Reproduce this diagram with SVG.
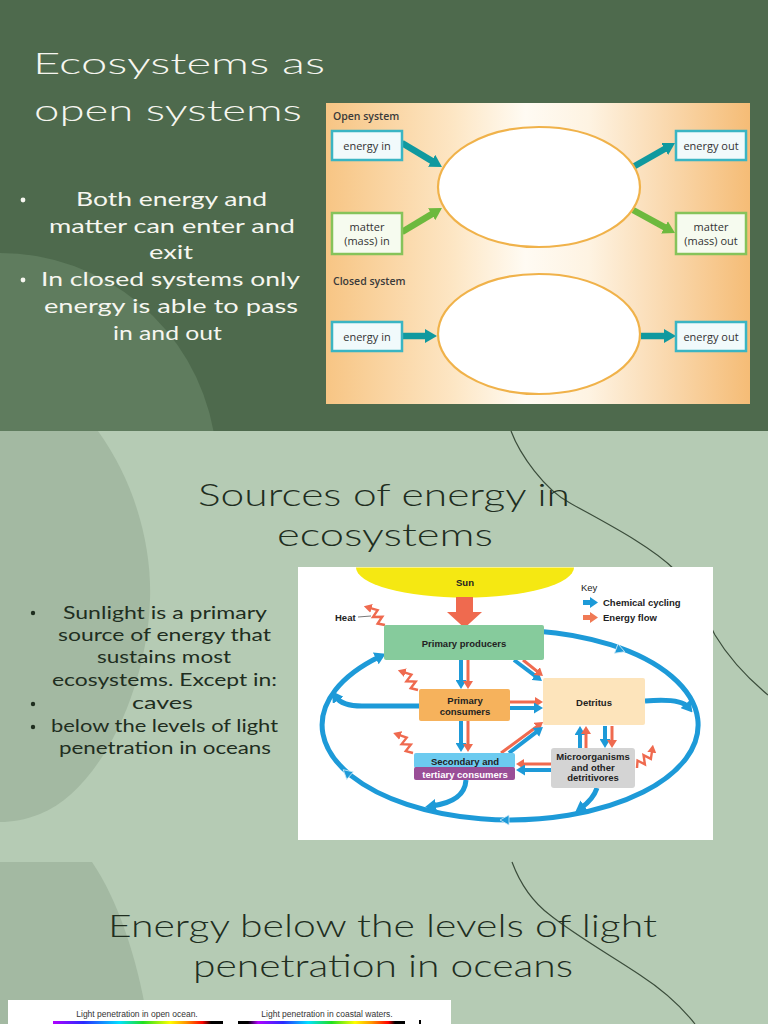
<svg xmlns="http://www.w3.org/2000/svg" width="768" height="1024" viewBox="0 0 768 1024">
<defs>
<style>
.ttl{font-family:Lato,'Open Sans','Liberation Sans',sans-serif;font-weight:300}
.bul{font-family:Lato,'Open Sans','Liberation Sans',sans-serif}
.d1{font-family:'Open Sans','Liberation Sans',sans-serif;font-size:11px;fill:#333}
.d1b{font-family:'Open Sans','Liberation Sans',sans-serif;font-size:10.5px;font-weight:600;fill:#3a3a3a}
.d2{font-family:'Liberation Sans',Arial,sans-serif;font-size:9.5px;font-weight:bold;fill:#222;text-anchor:middle}
.d2l{font-family:'Liberation Sans',Arial,sans-serif;font-size:9.5px;font-weight:bold;fill:#222}
.bx1{stroke:#3ab5c3;stroke-width:2.5;fill:#f1fafb}
.bx1g{stroke:#86c35a;stroke-width:2.5;fill:#f6fbef}
.ell{stroke:#f0b24a;stroke-width:2.2;fill:#fff}
.ar-t{stroke:#10999f;stroke-width:6.5;fill:none;marker-end:url(#mTeal)}
.ar-g{stroke:#6db93e;stroke-width:6.5;fill:none;marker-end:url(#mGreen)}
.ab{stroke:#1d9ad8;stroke-width:4;fill:none;marker-end:url(#mB)}
.ar{stroke:#ef6a4f;stroke-width:3;fill:none;marker-end:url(#mR)}
.abb{stroke:#1d9ad8;stroke-width:5;fill:none;marker-end:url(#mBB)}
.zz{stroke:#ef6a4f;stroke-width:2.4;fill:none;stroke-linejoin:miter;marker-end:url(#mRs)}
.chev{fill:#1d9ad8;stroke:#cfeaf7;stroke-width:0.8}
.deco{fill:none;stroke:#3b4d3b;stroke-width:1.2}
</style>
<marker id="mTeal" viewBox="0 0 12 14" refX="4" refY="7" markerUnits="userSpaceOnUse" markerWidth="12" markerHeight="14" orient="auto"><path d="M0,0 L12,7 L0,14 z" fill="#10999f"/></marker>
<marker id="mGreen" viewBox="0 0 12 14" refX="4" refY="7" markerUnits="userSpaceOnUse" markerWidth="12" markerHeight="14" orient="auto"><path d="M0,0 L12,7 L0,14 z" fill="#6db93e"/></marker>
<marker id="mB" viewBox="0 0 9 11" refX="3" refY="5.5" markerUnits="userSpaceOnUse" markerWidth="9" markerHeight="11" orient="auto"><path d="M0,0 L9,5.5 L0,11 z" fill="#1d9ad8"/></marker>
<marker id="mR" viewBox="0 0 8 10" refX="3" refY="5" markerUnits="userSpaceOnUse" markerWidth="8" markerHeight="10" orient="auto"><path d="M0,0 L8,5 L0,10 z" fill="#ef6a4f"/></marker>
<marker id="mBB" viewBox="0 0 11 13" refX="4" refY="6.5" markerUnits="userSpaceOnUse" markerWidth="11" markerHeight="13" orient="auto"><path d="M0,0 L11,6.5 L0,13 z" fill="#1d9ad8"/></marker>
<marker id="mRs" viewBox="0 0 8 9" refX="2" refY="4.5" markerUnits="userSpaceOnUse" markerWidth="8" markerHeight="9" orient="auto"><path d="M0,0 L8,4.5 L0,9 z" fill="#ef6a4f"/></marker>
<linearGradient id="gOpen" x1="0" y1="0" x2="1" y2="0">
<stop offset="0" stop-color="#f7c584"/><stop offset="0.3" stop-color="#fde6c4"/><stop offset="0.47" stop-color="#fffbf3"/><stop offset="0.62" stop-color="#fef3e2"/><stop offset="1" stop-color="#f5bc76"/>
</linearGradient>
<linearGradient id="rb1" x1="0" y1="0" x2="1" y2="0">
<stop offset="0" stop-color="#b000ff"/><stop offset="0.18" stop-color="#2a2aff"/><stop offset="0.39" stop-color="#00e0ff"/><stop offset="0.53" stop-color="#20e020"/><stop offset="0.69" stop-color="#ffff00"/><stop offset="0.78" stop-color="#ff9900"/><stop offset="0.88" stop-color="#ff0000"/><stop offset="0.93" stop-color="#000"/><stop offset="1" stop-color="#000"/>
</linearGradient>
<linearGradient id="rb2" x1="0" y1="0" x2="1" y2="0">
<stop offset="0" stop-color="#000"/><stop offset="0.06" stop-color="#000"/><stop offset="0.12" stop-color="#b000ff"/><stop offset="0.27" stop-color="#2a2aff"/><stop offset="0.42" stop-color="#00e0ff"/><stop offset="0.56" stop-color="#20e020"/><stop offset="0.7" stop-color="#ffff00"/><stop offset="0.8" stop-color="#ff9900"/><stop offset="0.9" stop-color="#ff0000"/><stop offset="0.94" stop-color="#000"/><stop offset="1" stop-color="#000"/>
</linearGradient>
<path id="zzp" d="M0,0 L6,-4.5 L8,3.5 L14,-3.5 L16,4.5 L23,0"/>
<path id="chv" d="M-4,-5 L5,0 L-4,5 z"/>
</defs>

<!-- backgrounds -->
<rect x="0" y="0" width="768" height="431" fill="#4e6a4d"/>
<path d="M0,253 A217,217 0 0,1 213.5,431 L0,431 Z" fill="#5f7c5e"/>
<rect x="0" y="431" width="768" height="593" fill="#b5cbb4"/>
<path d="M0,431 L98,431 C 132,478 152,540 150,600 C 147,690 100,790 40,814 C 25,820 12,822 0,822 Z" fill="#a3b9a2"/>
<path d="M0,862 L92,862 C 118,900 138,960 148,1024 L0,1024 Z" fill="#a3b9a2"/>
<path class="deco" d="M511,431 C 520,455 545,490 570,503 C 600,520 650,545 675,570 C 695,590 705,615 715,635 C 730,660 750,680 768,695"/>
<path class="deco" d="M512,862 C 518,878 530,900 550,915 C 575,935 610,955 640,975 C 660,988 680,1005 695,1024"/>

<!-- slide 1 text -->
<g id="slide1-title" fill="#f6f6f0">
<text class="ttl" x="33" y="74" font-size="30" textLength="292" lengthAdjust="spacingAndGlyphs">Ecosystems as</text>
<text class="ttl" x="34" y="121" font-size="30" textLength="268" lengthAdjust="spacingAndGlyphs">open systems</text>
</g>
<g id="slide1-bullets" fill="#f6f6f0">
<circle cx="23" cy="200" r="2.4"/>
<circle cx="23" cy="280" r="2.4"/>
<text class="bul" x="76" y="206" font-size="20" textLength="191" lengthAdjust="spacingAndGlyphs">Both energy and</text>
<text class="bul" x="49" y="233" font-size="20" textLength="246" lengthAdjust="spacingAndGlyphs">matter can enter and</text>
<text class="bul" x="149" y="259" font-size="20" textLength="44" lengthAdjust="spacingAndGlyphs">exit</text>
<text class="bul" x="41" y="286" font-size="20" textLength="259" lengthAdjust="spacingAndGlyphs">In closed systems only</text>
<text class="bul" x="44" y="313" font-size="20" textLength="254" lengthAdjust="spacingAndGlyphs">energy is able to pass</text>
<text class="bul" x="113" y="340" font-size="20" textLength="109" lengthAdjust="spacingAndGlyphs">in and out</text>
</g>

<!-- diagram 1: open / closed system -->
<rect x="326" y="103" width="424" height="301" fill="url(#gOpen)"/>
<text class="d1b" x="333" y="120">Open system</text>
<text class="d1b" x="333" y="285">Closed system</text>
<g id="connectors-1">
<line class="ar-t" x1="402" y1="143" x2="435.1" y2="162.9"/>
<line class="ar-g" x1="402" y1="232" x2="435.1" y2="212.1"/>
<line class="ar-t" x1="633" y1="167" x2="668.1" y2="147"/>
<line class="ar-g" x1="633" y1="210" x2="668" y2="229.2"/>
<line class="ar-t" x1="402" y1="336" x2="429" y2="336"/>
<line class="ar-t" x1="641" y1="336" x2="668" y2="336"/>
</g>
<g id="open-ecosystem"><ellipse class="ell" cx="539" cy="187" rx="101" ry="60"/></g>
<g id="closed-ecosystem"><ellipse class="ell" cx="539" cy="334" rx="101" ry="60"/></g>
<g id="open-energy-in"><rect class="bx1" x="332" y="131" width="70" height="29"/><text class="d1" x="367" y="150" text-anchor="middle">energy in</text></g>
<g id="open-matter-in"><rect class="bx1g" x="332" y="213" width="70" height="41"/><text class="d1" x="367" y="231" text-anchor="middle">matter</text><text class="d1" x="367" y="245" text-anchor="middle">(mass) in</text></g>
<g id="open-energy-out"><rect class="bx1" x="676" y="131" width="70" height="29"/><text class="d1" x="711" y="150" text-anchor="middle">energy out</text></g>
<g id="open-matter-out"><rect class="bx1g" x="676" y="213" width="70" height="41"/><text class="d1" x="711" y="231" text-anchor="middle">matter</text><text class="d1" x="711" y="245" text-anchor="middle">(mass) out</text></g>
<g id="closed-energy-in"><rect class="bx1" x="332" y="322" width="70" height="29"/><text class="d1" x="367" y="341" text-anchor="middle">energy in</text></g>
<g id="closed-energy-out"><rect class="bx1" x="676" y="322" width="70" height="29"/><text class="d1" x="711" y="341" text-anchor="middle">energy out</text></g>

<!-- slide 2 text -->
<g id="slide2-title" fill="#1f2e1f">
<text class="ttl" x="198" y="506" font-size="32" textLength="372" lengthAdjust="spacingAndGlyphs">Sources of energy in</text>
<text class="ttl" x="277" y="546" font-size="32" textLength="216" lengthAdjust="spacingAndGlyphs">ecosystems</text>
</g>
<g id="slide2-bullets" fill="#1f2e1f">
<circle cx="33" cy="613" r="2.2"/>
<circle cx="33" cy="704" r="2.2"/>
<circle cx="33" cy="727" r="2.2"/>
<text class="bul" x="63" y="619" font-size="17" textLength="204" lengthAdjust="spacingAndGlyphs">Sunlight is a primary</text>
<text class="bul" x="58" y="641" font-size="17" textLength="213" lengthAdjust="spacingAndGlyphs">source of energy that</text>
<text class="bul" x="97" y="663" font-size="17" textLength="134" lengthAdjust="spacingAndGlyphs">sustains most</text>
<text class="bul" x="52" y="686" font-size="17" textLength="225" lengthAdjust="spacingAndGlyphs">ecosystems. Except in:</text>
<text class="bul" x="132" y="709" font-size="17" textLength="61" lengthAdjust="spacingAndGlyphs">caves</text>
<text class="bul" x="51" y="732" font-size="17" textLength="227" lengthAdjust="spacingAndGlyphs">below the levels of light</text>
<text class="bul" x="59" y="754" font-size="17" textLength="212" lengthAdjust="spacingAndGlyphs">penetration in oceans</text>
</g>

<!-- diagram 2: energy flow and chemical cycling -->
<rect x="298" y="567" width="415" height="273" fill="#fff"/>
<g id="sun">
<path d="M356,567.5 A109,30 0 0,0 574,567.5 Z" fill="#f5e812"/>
<text class="d2" x="465" y="586">Sun</text>
</g>
<g id="key">
<text x="581" y="591" font-family="'Liberation Sans',Arial,sans-serif" font-size="9.5" fill="#222">Key</text>
<polygon points="583,600 590,600 590,597 598,602.5 590,608 590,605 583,605" fill="#1d9ad8"/>
<text class="d2l" x="603" y="606">Chemical cycling</text>
<polygon points="583,615 590,615 590,612 598,617.5 590,623 590,620 583,620" fill="#f07a55"/>
<text class="d2l" x="603" y="620.5">Energy flow</text>
</g>
<g id="heat-label">
<text class="d2l" x="335" y="620.5">Heat</text>
<line x1="358" y1="617" x2="371" y2="616" stroke="#555" stroke-width="0.8"/>
</g>
<g id="connectors-2">
<polygon points="456,597 473,597 473,612 482,612 464.5,628 447,612 456,612" fill="#ef6a4f"/>
<path class="abb" d="M536.2,630.9 A188,95 0 1,1 379.4,656.7"/>
<use href="#chv" class="chev" transform="translate(620,650) rotate(20.6)"/>
<use href="#chv" class="chev" transform="translate(505,820) rotate(180)"/>
<use href="#chv" class="chev" transform="translate(347,773) rotate(-139)"/>
<path class="abb" d="M419,706 L362,706 C 348,706 340,703 336,697"/>
<path class="abb" d="M645,701 C 668,699 683,701 688,707"/>
<path class="abb" d="M466,780 C 465,796 452,803 432,806"/>
<path class="abb" d="M597,788 C 594,797 588,803 581,808"/>
<line class="ab" x1="461" y1="660" x2="461" y2="683"/>
<line class="ar" x1="468" y1="660" x2="468" y2="684"/>
<line class="ab" x1="514" y1="660" x2="537.2" y2="677.4"/>
<line class="ar" x1="523" y1="660" x2="539.1" y2="672.9"/>
<line class="ar" x1="510" y1="702" x2="538" y2="702"/>
<line class="ab" x1="510" y1="708" x2="537" y2="708"/>
<line class="ab" x1="461" y1="721" x2="461" y2="746"/>
<line class="ar" x1="468" y1="721" x2="468" y2="747"/>
<line class="ar" x1="501" y1="753" x2="539" y2="725"/>
<line class="ab" x1="509" y1="753" x2="538.2" y2="730.6"/>
<line class="ab" x1="580" y1="748" x2="580" y2="732"/>
<line class="ar" x1="586" y1="748" x2="586" y2="731"/>
<line class="ab" x1="605" y1="726" x2="605" y2="742"/>
<line class="ar" x1="612" y1="726" x2="612" y2="743"/>
<line class="ar" x1="551" y1="764" x2="521" y2="764"/>
<line class="ab" x1="551" y1="770" x2="522" y2="770"/>
<use href="#zzp" class="zz" transform="translate(385,625) rotate(-132)"/>
<use href="#zzp" class="zz" transform="translate(418,690) rotate(-129)"/>
<use href="#zzp" class="zz" transform="translate(413,753) rotate(-128)"/>
<use href="#zzp" class="zz" transform="translate(637,768) rotate(-49)"/>
</g>
<g id="primary-producers"><rect x="384" y="625" width="160" height="35" rx="2" fill="#86cb9c"/><text class="d2" x="464" y="646.5">Primary producers</text></g>
<g id="primary-consumers"><rect x="419" y="689" width="91" height="32" rx="2" fill="#f6b25c"/><text class="d2" x="465" y="703.5">Primary</text><text class="d2" x="465" y="714.5">consumers</text></g>
<g id="detritus"><rect x="543" y="678" width="102" height="47" rx="2" fill="#fde4bb"/><text class="d2" x="594" y="705.5">Detritus</text></g>
<g id="secondary-tertiary-consumers"><rect x="414" y="753" width="101" height="15" rx="2" fill="#6ccbf0"/><rect x="414" y="767" width="101" height="13" rx="2" fill="#9a4e97"/><text class="d2" x="465" y="764.5">Secondary and</text><text class="d2" x="465" y="777.5" style="fill:#fff">tertiary consumers</text></g>
<g id="microorganisms"><rect x="551" y="748" width="84" height="40" rx="3" fill="#d4d4d4"/><text class="d2" x="593" y="760">Microorganisms</text><text class="d2" x="593" y="770.5">and other</text><text class="d2" x="593" y="781">detritivores</text></g>

<!-- slide 3 -->
<g id="slide3-title" fill="#1f2e1f">
<text class="ttl" x="108" y="937" font-size="32" textLength="549" lengthAdjust="spacingAndGlyphs">Energy below the levels of light</text>
<text class="ttl" x="193" y="977" font-size="32" textLength="380" lengthAdjust="spacingAndGlyphs">penetration in oceans</text>
</g>
<g id="light-penetration">
<rect x="8" y="1000" width="443" height="24" fill="#fff"/>
<text x="137" y="1017" font-family="'Liberation Sans',Arial,sans-serif" font-size="8.5" fill="#333" text-anchor="middle">Light penetration in open ocean.</text>
<text x="327" y="1017" font-family="'Liberation Sans',Arial,sans-serif" font-size="8.5" fill="#333" text-anchor="middle">Light penetration in coastal waters.</text>
<rect x="53" y="1021" width="170" height="3" fill="url(#rb1)"/>
<rect x="238" y="1021" width="167" height="3" fill="url(#rb2)"/>
<rect x="419" y="1020" width="2" height="4" fill="#000"/>
</g>
</svg>
